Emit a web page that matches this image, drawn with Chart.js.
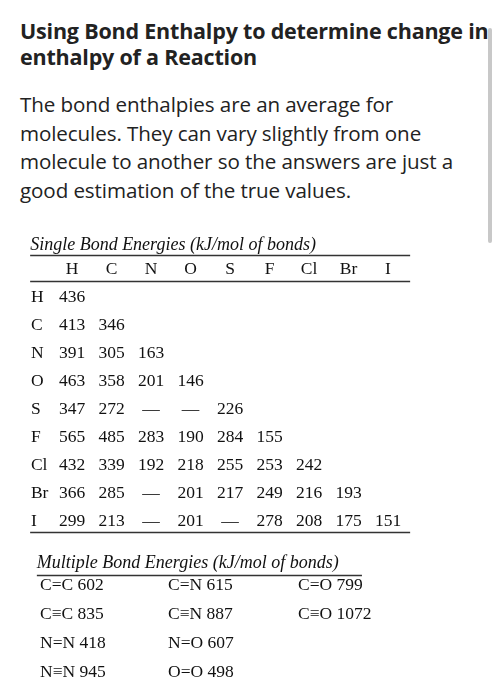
<!DOCTYPE html>
<html><head><meta charset="utf-8">
<script src="https://cdn.jsdelivr.net/npm/chart.js@4"></script>
<style>
body{margin:0;width:497px;height:700px;overflow:hidden;background:#fff;font-family:"Open Sans",sans-serif;color:#222;position:relative}
h1{position:absolute;left:20px;top:18px;margin:0;font-size:21.5px;line-height:26px;font-weight:700;width:470px;letter-spacing:-0.2px}
p{position:absolute;left:20px;top:90px;margin:0;font-size:20.6px;line-height:28.5px;width:472px;letter-spacing:-0.1px}
#sb{position:absolute;left:488px;top:28px;width:4px;height:215px;background:#c8c8c8;border-radius:2px}
#wrap{position:absolute;left:0;top:225px;width:497px;height:475px}
</style></head><body>
<h1>Using Bond Enthalpy to determine change in enthalpy of a Reaction</h1>
<p>The bond enthalpies are an average for molecules. They can vary slightly from one molecule to another so the answers are just a good estimation of the true values.</p>
<div id="sb"></div>
<div id="wrap"><canvas id="c" width="497" height="475"></canvas></div>
<script>
const singleTitle = "Single Bond Energies (kJ/mol of bonds)";
const multiTitle = "Multiple Bond Energies (kJ/mol of bonds)";
const headers = ["H","C","N","O","S","F","Cl","Br","I"];
const rowLabels = ["H","C","N","O","S","F","Cl","Br","I"];
const rowH  = ["436"];
const rowC  = ["413","346"];
const rowN  = ["391","305","163"];
const rowO  = ["463","358","201","146"];
const rowS  = ["347","272","—","—","226"];
const rowF  = ["565","485","283","190","284","155"];
const rowCl = ["432","339","192","218","255","253","242"];
const rowBr = ["366","285","—","201","217","249","216","193"];
const rowI  = ["299","213","—","201","—","278","208","175","151"];
const multiCol1 = ["C=C 602","C≡C 835","N=N 418","N≡N 945"];
const multiCol2 = ["C=N 615","C≡N 887","N=O 607","O=O 498"];
const multiCol3 = ["C=O 799","C≡O 1072"];

const rows=[rowH,rowC,rowN,rowO,rowS,rowF,rowCl,rowBr,rowI];
const cells=[];
headers.forEach((h,i)=>cells.push({x:i+1,y:-1,t:h,kind:'head'}));
rowLabels.forEach((l,r)=>cells.push({x:-0.04,y:r,t:l,kind:'label'}));
rows.forEach((vals,r)=>vals.forEach((v,i)=>cells.push({x:i+1,y:r,t:v,kind:'val'})));
[multiCol1,multiCol2,multiCol3].forEach((col,c)=>col.forEach((t,r)=>cells.push({x:[0.19,3.43,6.72][c],y:10.3+r*1.03,t,kind:'multi'})));

const textPlugin={id:'txt',afterDatasetsDraw(chart){
  const ctx=chart.ctx,xs=chart.scales.x,ys=chart.scales.y;
  const meta=chart.getDatasetMeta(0);
  ctx.save();ctx.fillStyle='#111';ctx.strokeStyle='#333';ctx.textBaseline='middle';
  meta.data.forEach((el,i)=>{
    const c=cells[i];
    ctx.font='17.5px "Liberation Serif", serif';
    ctx.textAlign=(c.kind==='label'||c.kind==='multi')?'left':'center';
    ctx.fillText(c.t,el.x,el.y);
  });
  ctx.font='italic 18px "Liberation Serif", serif';ctx.textAlign='left';
  ctx.fillText(singleTitle,xs.getPixelForValue(-0.06),ys.getPixelForValue(-1.86));
  ctx.fillText(multiTitle,xs.getPixelForValue(0.11),ys.getPixelForValue(9.5));
  ctx.lineWidth=1.3;
  const hl=(x1,x2,y)=>{ctx.beginPath();ctx.moveTo(xs.getPixelForValue(x1),Math.round(ys.getPixelForValue(y))+0.5);ctx.lineTo(xs.getPixelForValue(x2),Math.round(ys.getPixelForValue(y))+0.5);ctx.stroke();};
  hl(-0.06,9.56,-1.5); hl(-0.06,9.56,-0.57); hl(-0.06,9.56,8.4); hl(0.11,8.34,9.93);
  ctx.restore();
}};
new Chart(document.getElementById('c'),{
  type:'scatter',
  data:{datasets:[{data:cells.map(c=>({x:c.x,y:c.y})),pointRadius:0,pointHoverRadius:0}]},
  options:{responsive:false,animation:false,events:[],
    layout:{padding:0},
    plugins:{legend:{display:false},tooltip:{enabled:false}},
    scales:{x:{type:'linear',display:false,min:-0.823,max:11.759},
            y:{type:'linear',display:false,reverse:true,min:-2.571,max:14.393}}},
  plugins:[textPlugin]
});
</script></body></html>
